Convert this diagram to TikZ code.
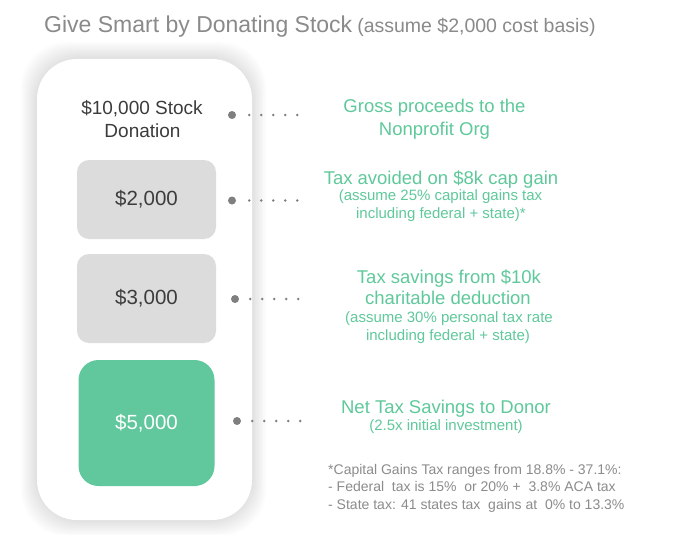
\documentclass[tikz,border=0pt]{standalone}
\usepackage{fontspec}
\setmainfont{Liberation Sans}
\definecolor{titlegray}{HTML}{8A8A8A}
\definecolor{darktext}{HTML}{3C3C3C}
\definecolor{boxgray}{HTML}{DCDCDC}
\definecolor{boxgreen}{HTML}{61C79C}
\definecolor{textgreen}{HTML}{5FC99B}
\definecolor{dotgray}{HTML}{7F7F7F}
\definecolor{notegray}{HTML}{8C8C8C}
\begin{document}
\begin{tikzpicture}[x=1pt,y=-1pt,
  card/.style={fill=white, rounded corners=40pt, minimum width=215pt, minimum height=461pt, inner sep=0pt},
  graybox/.style={fill=boxgray, rounded corners=12pt, minimum width=139pt, inner sep=0pt, text=darktext, font=\fontsize{20.5}{24}\selectfont},
  greenbox/.style={fill=boxgreen, rounded corners=20pt, minimum width=136pt, minimum height=126pt, inner sep=0pt, text=white, font=\fontsize{20.5}{24}\selectfont},
  cardtext/.style={anchor=base, inner sep=0pt, text=darktext, font=\fontsize{19}{22}\selectfont},
  bigdot/.style={circle, fill=dotgray, minimum size=8pt, inner sep=0pt},
  dotline/.style={draw=dotgray, line width=2.7pt, line cap=round, dash pattern=on 0pt off 12pt},
  headgreen/.style={anchor=base, inner sep=0pt, text=textgreen, font=\fontsize{18.5}{22}\selectfont},
  notegreen/.style={anchor=base, inner sep=0pt, text=textgreen, font=\fontsize{15}{18}\selectfont},
  footnote/.style={anchor=base west, inner sep=0pt, text=notegray, font=\fontsize{14}{17}\selectfont}
]
\useasboundingbox[fill=white] (0,0) rectangle (691,535);

% soft shadow around the card
\foreach \i in {1,...,10}
  \fill[black, opacity=0.013, rounded corners=46pt]
    ({37-1.6*\i},{59-1.7*\i}) rectangle ({252+1.4*\i},{520+1.6*\i});

% title
\node[anchor=base west, inner sep=0pt, text=titlegray] (title) at (44,33)
  {{\fontsize{23}{27}\selectfont Give Smart by Donating Stock}\hspace{5pt}{\fontsize{19.5}{23}\selectfont (assume \$2,000 cost basis)}};

% card and boxes
\node[card] (card) at (144.5,289.5) {};
\node[cardtext] (stock) at (142,114) {\$10,000 Stock};
\node[cardtext] (donation) at (142.5,137.5) {Donation};
\node[graybox, minimum height=79pt] (b2) at (146.5,199.5) {\raisebox{-1.5pt}{\$2,000}};
\node[graybox, minimum height=89pt] (b3) at (146.5,298.5) {\raisebox{-2pt}{\$3,000}};
\node[greenbox] (b5) at (146.5,423) {\raisebox{-1.5pt}{\$5,000}};

% dots and dotted leaders
\node[bigdot] (d1) at (232,115) {};
\node[bigdot] (d2) at (232,200.5) {};
\node[bigdot] (d3) at (235,299) {};
\node[bigdot] (d4) at (237,421) {};
\coordinate (e1) at (297.5,115);
\coordinate (e2) at (297.5,200.5);
\coordinate (e3) at (299.5,299);
\coordinate (e4) at (303.5,421);
\draw[dotline, shorten <=13pt] (d1) -- (e1);
\draw[dotline, shorten <=13pt] (d2) -- (e2);
\draw[dotline, shorten <=11pt] (d3) -- (e3);
\draw[dotline, shorten <=11pt] (d4) -- (e4);

% right-hand texts
\node[headgreen] (g1a) at (434.5,113) {Gross proceeds to the};
\node[headgreen] (g1b) at (434.5,135) {Nonprofit Org};

\node[headgreen] (g2a) at (441,184) {Tax avoided on \$8k cap gain};
\node[notegreen] (g2b) at (440.5,200.7) {(assume 25\% capital gains tax};
\node[notegreen] (g2c) at (441,218) {including federal + state)*};

\node[headgreen] (g3a) at (449,283) {Tax savings from \$10k};
\node[headgreen] (g3b) at (448,304) {charitable deduction};
\node[notegreen] (g3c) at (449,322) {(assume 30\% personal tax rate};
\node[notegreen] (g3d) at (448,340) {including federal + state)};

\node[headgreen] (g4a) at (446,413) {Net Tax Savings to Donor};
\node[notegreen] (g4b) at (446,430) {(2.5x initial investment)};

% footnote
\node[footnote] (f1) at (328,474) {*Capital Gains Tax ranges from 18.8\% - 37.1\%:};
\node[footnote] (f2) at (328,491) {- Federal\ \ tax is 15\%\ \ or 20\% +\ \ 3.8\% ACA tax};
\node[footnote] (f3) at (328,509) {- State tax: 41 states tax\ \ gains at\ \ 0\% to 13.3\%};
\end{tikzpicture}
\end{document}
